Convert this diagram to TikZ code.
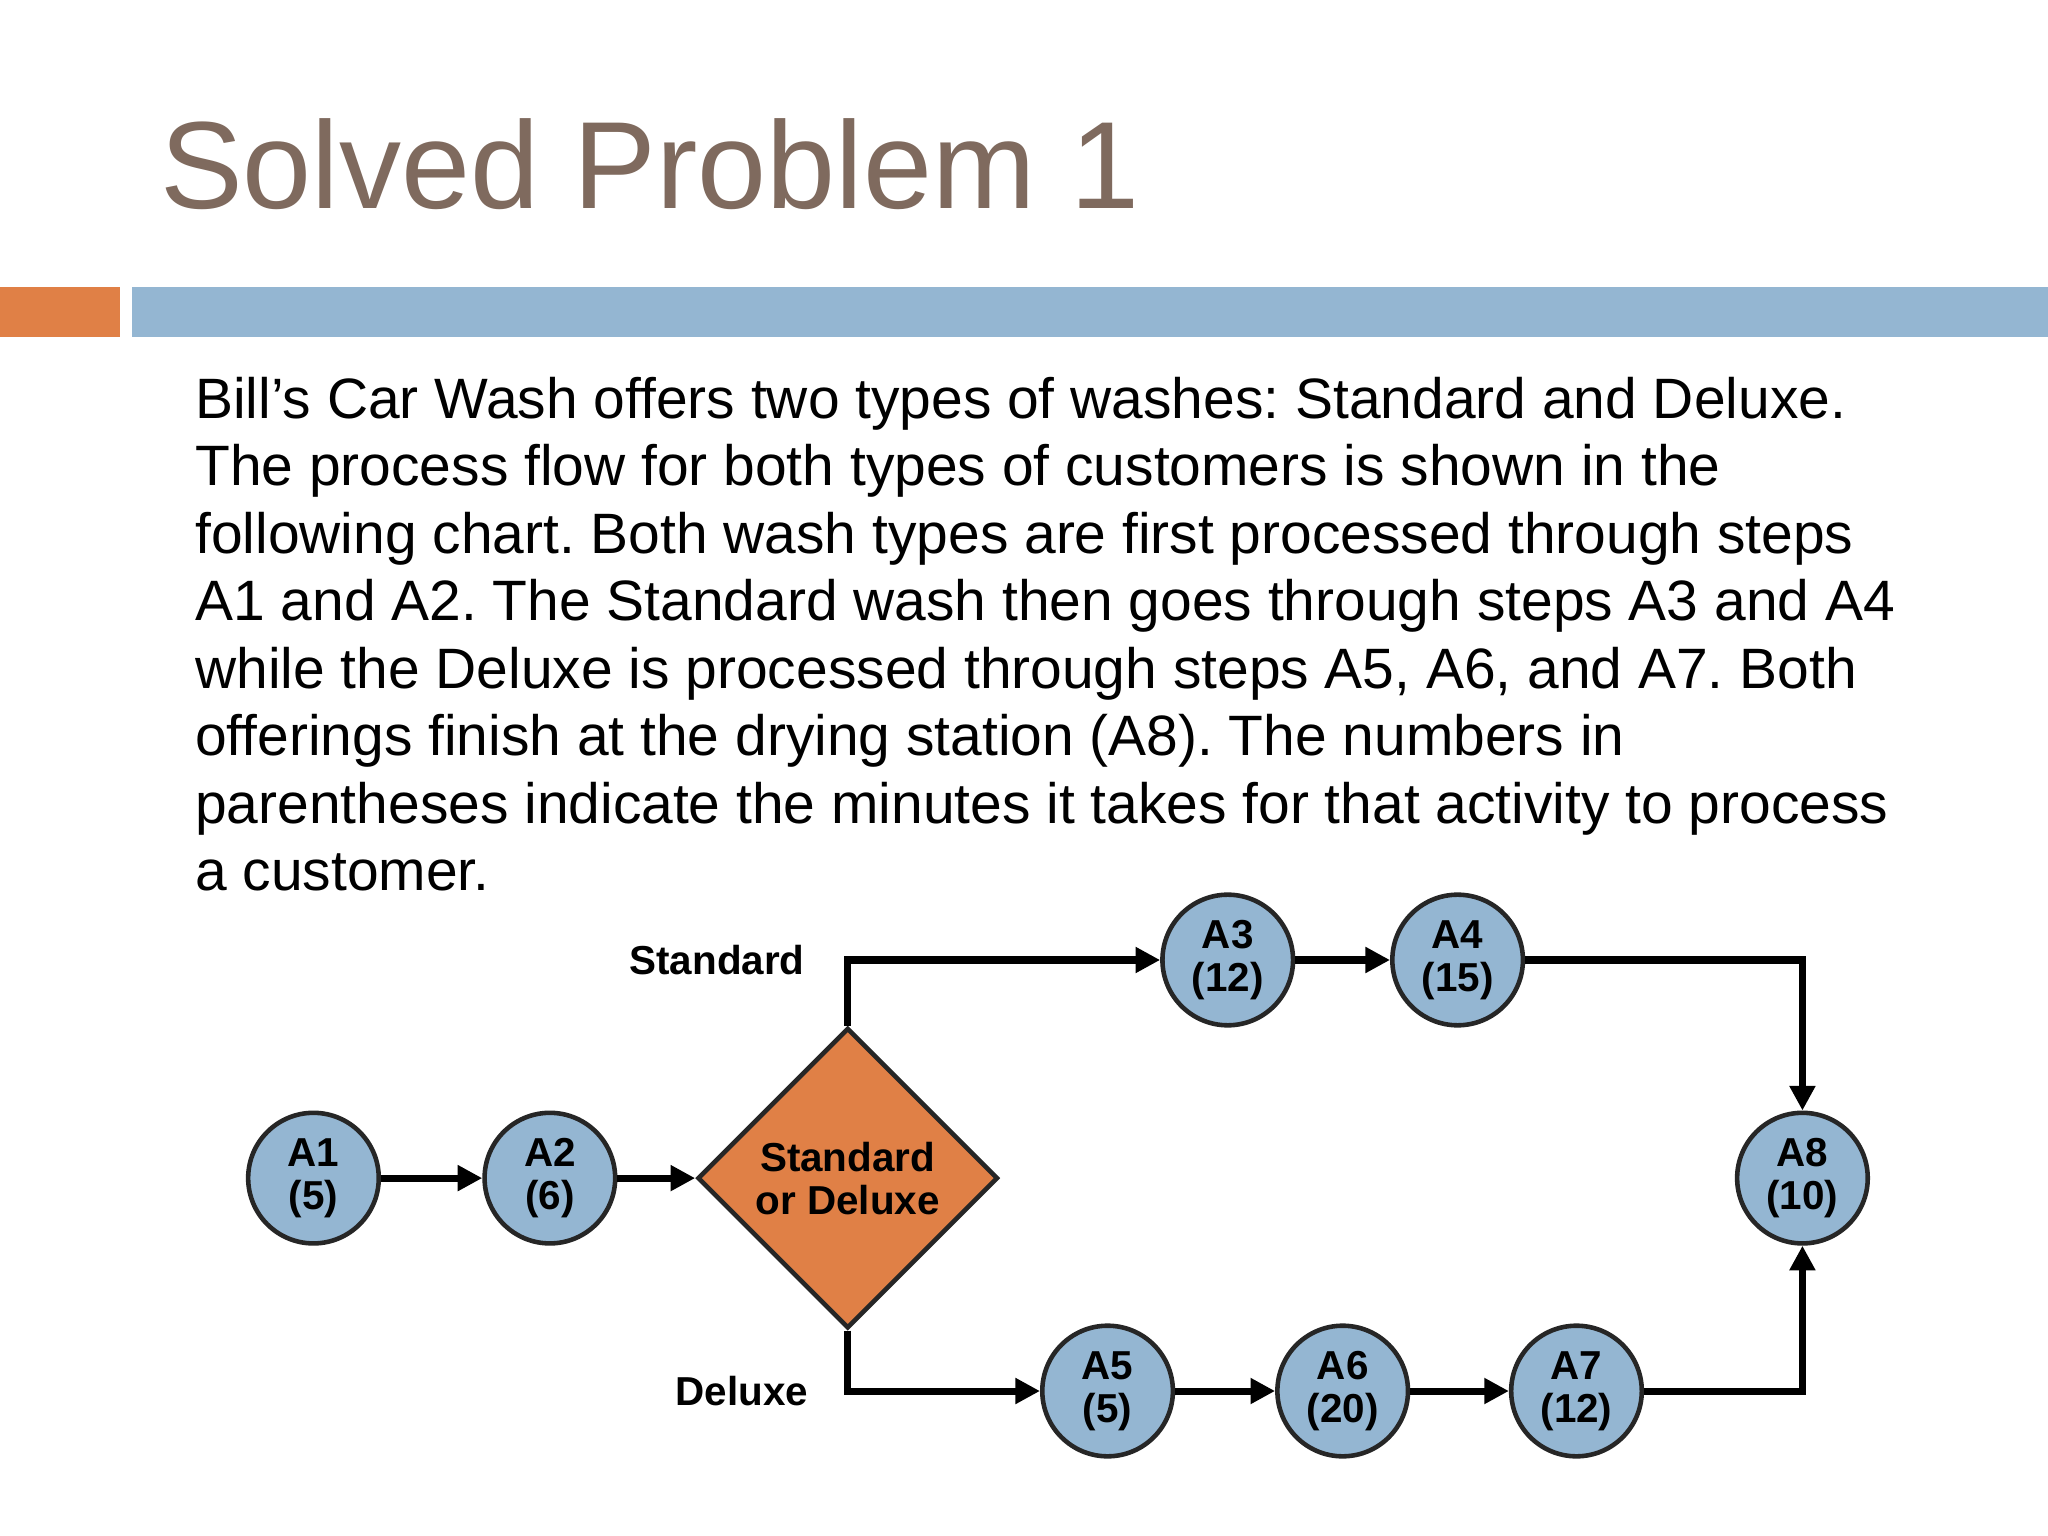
\documentclass[tikz,border=0pt]{standalone}
\usepackage{fontspec}
\setmainfont{Liberation Sans}
\usetikzlibrary{shapes.geometric,arrows.meta}
\definecolor{ttl}{RGB}{127,106,94}
\definecolor{org}{RGB}{224,128,70}
\definecolor{blu}{RGB}{148,182,210}
\begin{document}
\frenchspacing
\begin{tikzpicture}[x=0.013061cm,y=-0.013061cm,
  act/.style={circle,draw=black!85,line width=1.3pt,fill=blu,minimum size=100*0.013061cm,inner sep=0pt,align=center,font=\fontsize{11.5}{12.2}\selectfont\bfseries},
  arr/.style={-{Triangle[length=7pt,width=7pt]},line width=2pt},
  lab/.style={font=\fontsize{11.5}{13}\selectfont\bfseries}]
\useasboundingbox (0,0) rectangle (1568,1176);
\fill[white] (0,0) rectangle (1568,1176);
\node[anchor=base west,inner sep=0pt,text=ttl,font=\fontsize{35.3}{37}\selectfont] (title) at (122,160) {Solved Problem 1};
\fill[org] (0,220) rectangle (92,258);
\fill[blu] (101,220) rectangle (1568,258);
\node[anchor=north west,inner sep=0pt,align=left,font=\fontsize{16.2}{19.2}\selectfont] (body) at (149,288) {Bill’s Car Wash offers two types of washes: Standard and Deluxe.\\
The process flow for both types of customers is shown in the\\
following chart. Both wash types are first processed through steps\\
A1 and A2. The Standard wash then goes through steps A3 and A4\\
while the Deluxe is processed through steps A5, A6, and A7. Both\\
offerings finish at the drying station (A8). The numbers in\\
parentheses indicate the minutes it takes for that activity to process\\
a customer.};
\node[act] (a1) at (240,902) {A1\\(5)};
\node[act] (a2) at (421,902) {A2\\(6)};
\node[act] (a3) at (940,735) {A3\\(12)};
\node[act] (a4) at (1116,735) {A4\\(15)};
\node[act] (a8) at (1380,902) {A8\\(10)};
\node[act] (a5) at (848,1065) {A5\\(5)};
\node[act] (a6) at (1028,1065) {A6\\(20)};
\node[act] (a7) at (1207,1065) {A7\\(12)};
\node[diamond,draw=black!85,line width=1.3pt,fill=org,minimum width=230*0.013061cm,minimum height=230*0.013061cm,inner sep=0pt,align=center,font=\fontsize{11.5}{12.2}\selectfont\bfseries] (d) at (649,902) {Standard\\or Deluxe};
\node[lab] (ls) at (549,735) {Standard};
\node[lab] (ld) at (568,1065) {Deluxe};
\draw[arr] (a1) -- (a2);
\draw[arr] (a2) -- (d);
\draw[arr] (d.north) |- (a3);
\draw[arr] (a3) -- (a4);
\draw[arr] (a4) -| (a8);
\draw[arr] (d.south) |- (a5);
\draw[arr] (a5) -- (a6);
\draw[arr] (a6) -- (a7);
\draw[arr] (a7) -| (a8);
\end{tikzpicture}
\end{document}
